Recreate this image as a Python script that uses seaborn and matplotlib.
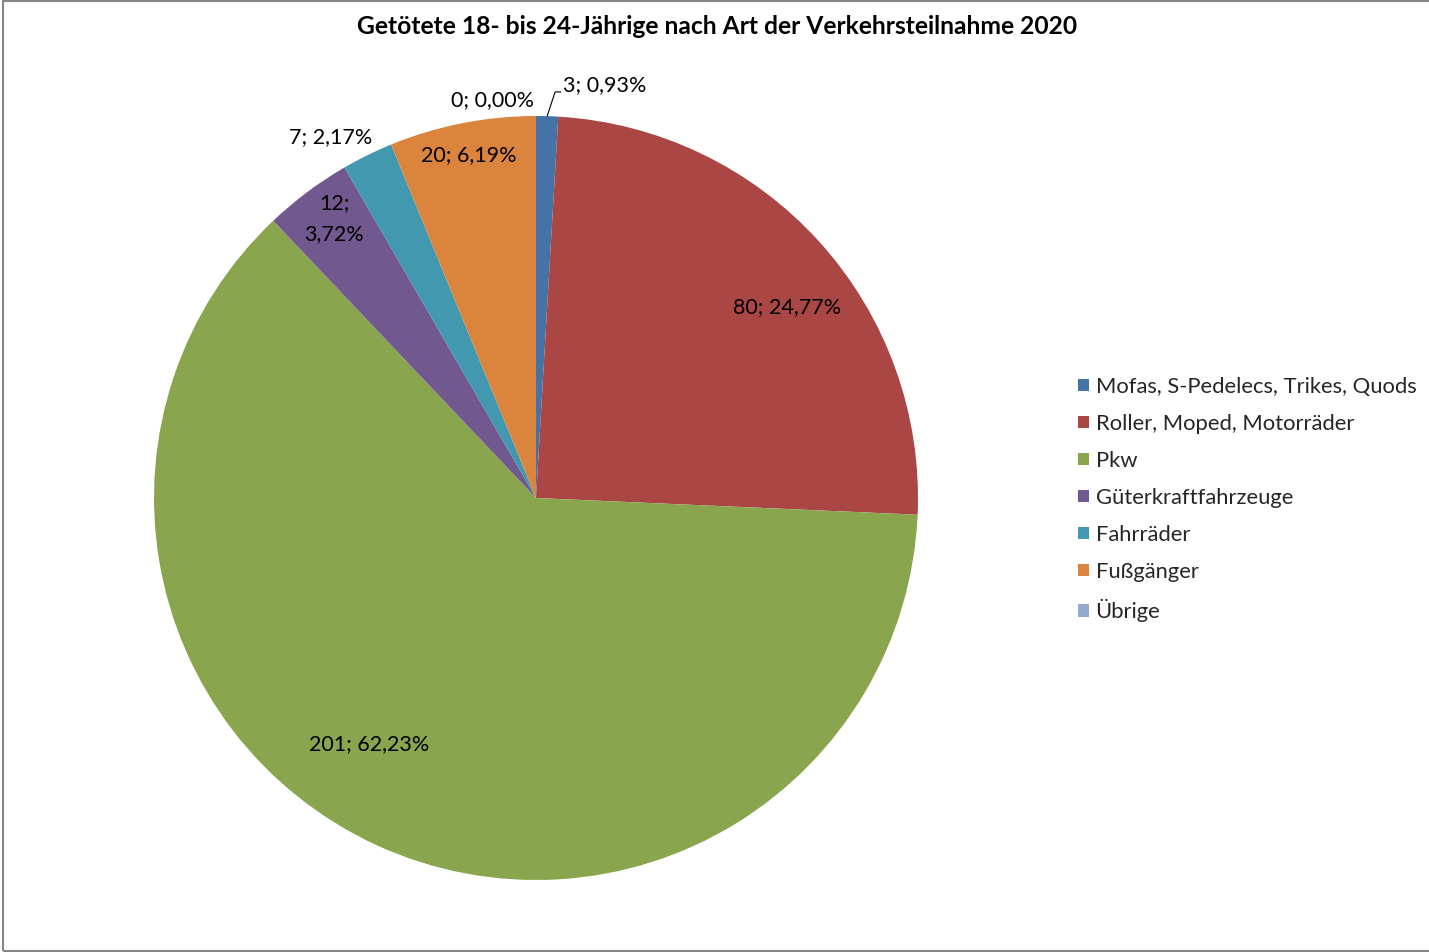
import numpy as np
import matplotlib
matplotlib.use("Agg")
import matplotlib.pyplot as plt
import seaborn as sns
from matplotlib.patches import Patch, Rectangle

categories = ["Mofas, S-Pedelecs, Trikes, Quods", "Roller, Moped, Motorräder", "Pkw",
              "Güterkraftfahrzeuge", "Fahrräder", "Fußgänger", "Übrige"]
values = [3, 80, 201, 12, 7, 20, 0]
percent_labels = ["0,93%", "24,77%", "62,23%", "3,72%", "2,17%", "6,19%", "0,00%"]
colors = ["#4572A7", "#AA4643", "#89A54E", "#71588F", "#4198AF", "#DB843D", "#93A9CF"]
title = "Getötete 18- bis 24-Jährige nach Art der Verkehrsteilnahme 2020"

sns.set_theme(style="white")
plt.rcParams["font.family"] = ["Lato", "DejaVu Sans"]

W, H = 1429, 952
fig = plt.figure(figsize=(W / 100, H / 100), dpi=100)
cx, cy, R = 536, 498, 382
ax = fig.add_axes([(cx - R) / W, (H - cy - R) / H, 2 * R / W, 2 * R / H])

wedges, _ = ax.pie(values, colors=colors, startangle=90, counterclock=False,
                   wedgeprops=dict(linewidth=0), radius=1)
ax.set_xlim(-1, 1)
ax.set_ylim(-1, 1)
ax.set_aspect("equal")
ax.axis("off")

# label placement: (radius factor, angle offset deg, mode)
place = {
    1: (0.826, -4.8, None),
    2: (0.777, -9.6, None),
    3: (0.902, -0.9, "twoline"),
    4: (1.088, 3.5, None),
    5: (0.915, 0.0, None),
    6: (1.047, 6.3, None),
}
fs = 15.5
for i, w in enumerate(wedges):
    mid = np.deg2rad((w.theta1 + w.theta2) / 2)
    txt = f"{values[i]}; {percent_labels[i]}"
    if i == 0:
        x0, y0 = np.cos(mid), np.sin(mid)
        ax.plot([x0, 0.050, 0.065], [y0, 1.063, 1.063], color="black", lw=0.8, clip_on=False)
        ax.text(0.071, 1.081, txt, ha="left", va="center", fontsize=fs, color="black")
        continue
    r, dth, mode = place[i]
    a = mid + np.deg2rad(dth)
    if mode == "twoline":
        txt = f"{values[i]};\n{percent_labels[i]}"
    ax.text(r * np.cos(a), r * np.sin(a), txt, ha="center", va="center",
            fontsize=fs, color="black", linespacing=1.7, clip_on=False)

fig.text(717 / W, 1 - 27 / H, title, ha="center", va="center", fontsize=17.7,
         fontweight="bold", color="black")

handles = [Patch(facecolor=c, edgecolor="none") for c in colors]
fig.legend(handles, categories, loc="upper left", bbox_to_anchor=(1078 / W, 1 - 377 / H),
           frameon=False, fontsize=15.8, handlelength=0.5, handleheight=0.5,
           handletextpad=0.3, labelspacing=0.775, borderpad=0, borderaxespad=0)

fig.patches.append(Rectangle((2.5 / W, 1.5 / H), 1.2, 1 - 2.5 / H, transform=fig.transFigure,
                             fill=False, edgecolor="#868686", linewidth=1.5))

fig.savefig("out.png", dpi=100, facecolor="white")
